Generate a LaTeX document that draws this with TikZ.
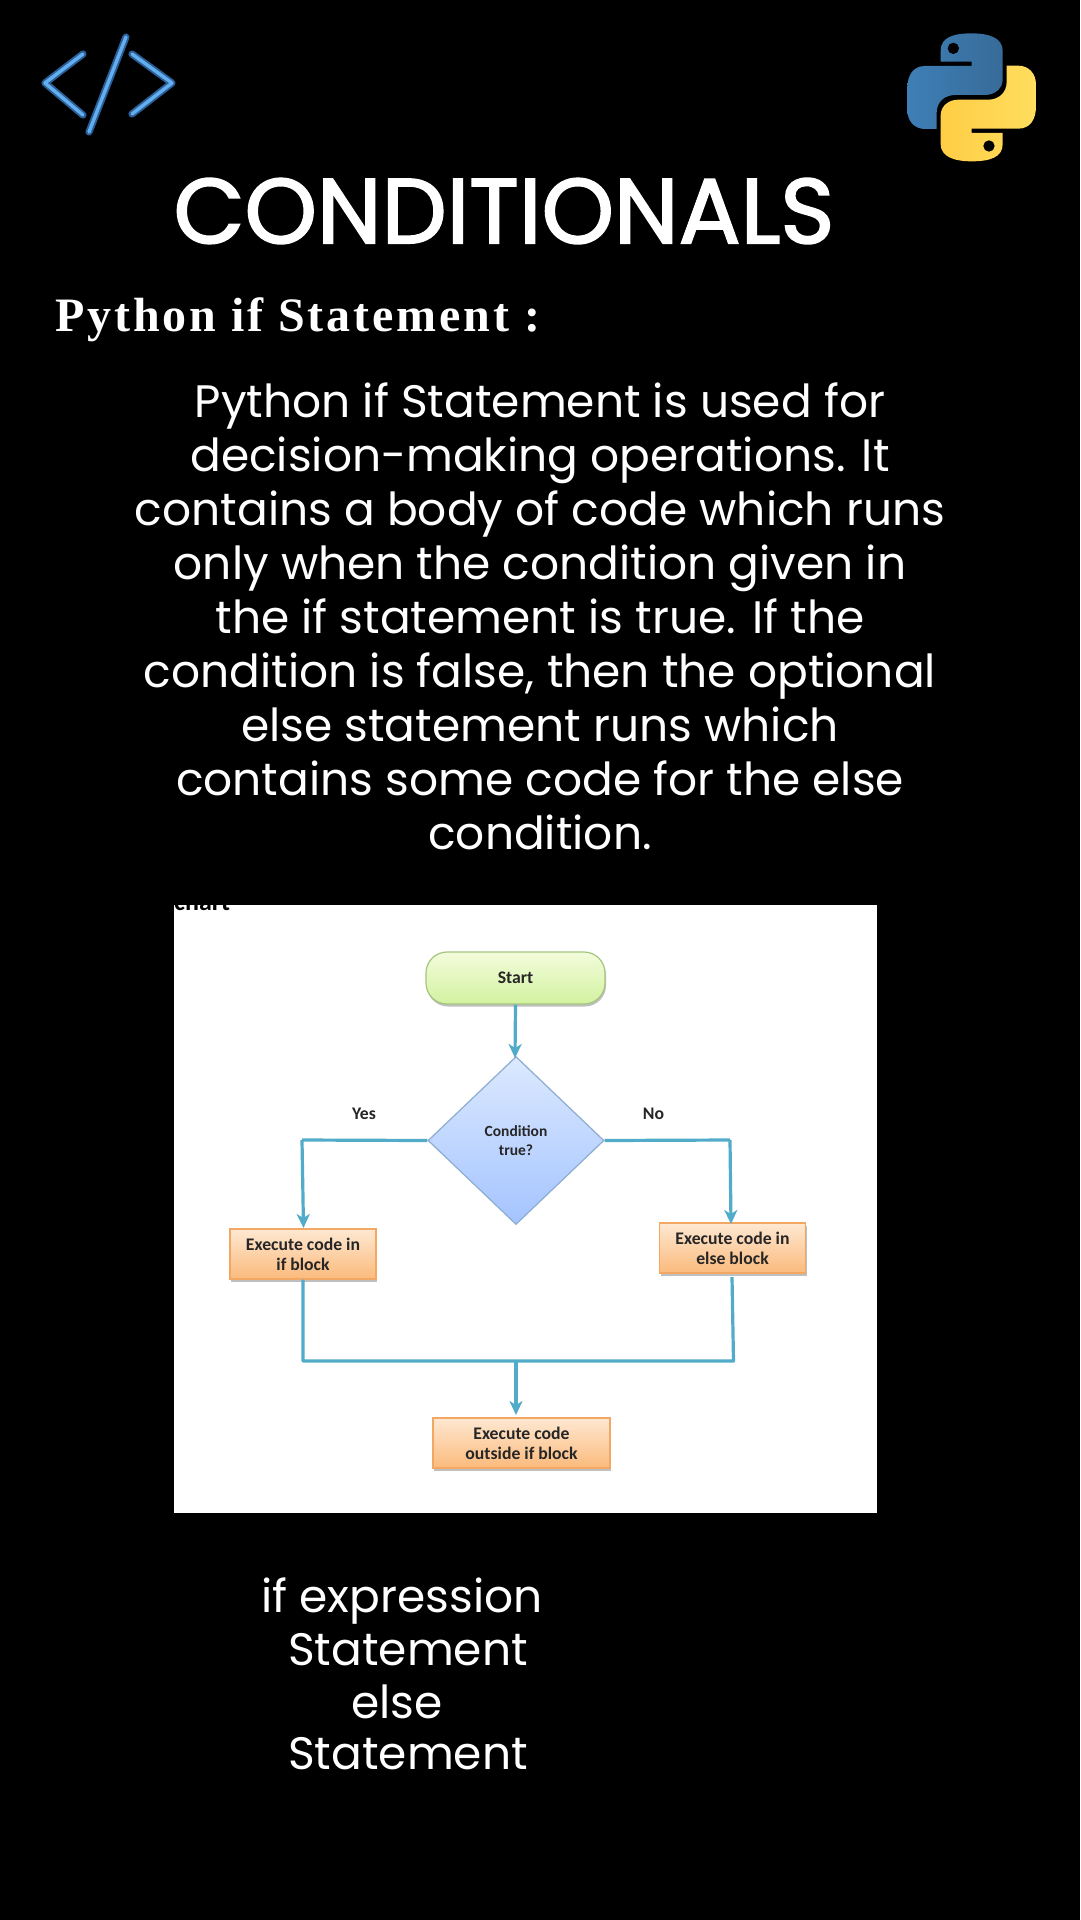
\documentclass[tikz,border=0pt]{standalone}
\usepackage{fontspec}
\setmainfont{Poppins}
\newfontfamily\titlefont[FakeBold=2]{Poppins}
\newfontfamily\flowfont{Carlito}
\newfontfamily\headfont[LetterSpace=6]{Liberation Serif}
\usetikzlibrary{arrows.meta,shapes.geometric,shadows}
\definecolor{flowteal}{HTML}{52ABC8}
\definecolor{logoouter}{HTML}{2C5E96}
\definecolor{logoinner}{HTML}{62AEEF}
\definecolor{pyblueA}{HTML}{3E7FB6}
\definecolor{pyblueB}{HTML}{376B99}
\definecolor{pyyellowA}{HTML}{FFCE45}
\definecolor{pyyellowB}{HTML}{FFDD5E}
\definecolor{startA}{HTML}{F3FCDC}
\definecolor{startB}{HTML}{D2F2A0}
\definecolor{startline}{HTML}{A5C57E}
\definecolor{condA}{HTML}{DCE9FF}
\definecolor{condB}{HTML}{A4C4FF}
\definecolor{condline}{HTML}{8CADCF}
\definecolor{procA}{HTML}{FEE8D2}
\definecolor{procB}{HTML}{FBBA7C}
\definecolor{procline}{HTML}{F2A763}
\tikzset{
  x=1pt,y=-1pt,
  flowtext/.style={font=\flowfont\bfseries\fontsize{17.7}{20}\selectfont,text=black!85,align=center,inner sep=0pt},
  softshadow/.style={general shadow={shadow xshift=1pt,shadow yshift=-2.5pt,fill=black,opacity=.25}},
  startbox/.style={flowtext,draw=startline,line width=1.2pt,rounded corners=21pt,top color=startA,bottom color=startB,minimum width=179pt,minimum height=52pt,softshadow},
  condbox/.style={flowtext,font=\flowfont\bfseries\fontsize{15.5}{19.5}\selectfont,diamond,aspect=1.05,draw=condline,line width=1.2pt,top color=condA,bottom color=condB,minimum width=176pt,minimum height=168pt},
  procbox/.style={flowtext,draw=procline,line width=1.2pt,top color=procA,bottom color=procB,minimum width=146pt,minimum height=50pt,softshadow},
  flow/.style={draw=flowteal,line width=3.2pt},
  flowarrow/.style={flow,-{Stealth[length=14pt,width=13pt,inset=4pt]}},
  edgelabel/.style={flowtext},
  bodytext/.style={text=white,align=center,inner sep=0pt,font=\fontsize{45.5}{54}\selectfont},
  codetext/.style={text=white,inner sep=0pt,font=\fontsize{45.5}{54}\selectfont},
  bracket/.style={line cap=round,line join=round,draw=logoouter,line width=7.2pt},
  bracketcore/.style={line cap=round,line join=round,draw=logoinner,line width=3.4pt},
}
\begin{document}
\begin{tikzpicture}
\useasboundingbox (0,0) rectangle (1080,1920);
\fill[black] (0,0) rectangle (1080,1920);
% code icon
\foreach \s in {bracket,bracketcore}{
  \draw[\s] (83,54) -- (45,83) -- (83,115);
  \draw[\s] (132,54) -- (172,83) -- (132,114);
  \draw[\s] (126,37) -- (89,132);
}
% python logo
\begin{scope}[shift={(890,20)},x=0.3333pt,y=-0.3333pt]
  \fill[left color=pyblueA,right color=pyblueB] (245,40) .. controls (190,40) and (152,52) .. (152,92) -- (152,125) -- (245,125) -- (245,138) -- (105,138) .. controls (70,138) and (52,165) .. (52,205) -- (52,270) .. controls (52,305) and (75,327) .. (105,327) -- (140,327) -- (140,278) .. controls (140,245) and (165,225) .. (195,225) -- (285,225) .. controls (315,225) and (338,205) .. (338,178) -- (338,92) .. controls (338,55) and (300,40) .. (245,40) -- cycle;
  \fill[left color=pyyellowA,right color=pyyellowB] (245,424) .. controls (300,424) and (338,412) .. (338,372) -- (338,339) -- (245,339) -- (245,326) -- (385,326) .. controls (420,326) and (438,299) .. (438,259) -- (438,194) .. controls (438,159) and (415,137) .. (385,137) -- (350,137) -- (350,186) .. controls (350,219) and (325,239) .. (295,239) -- (205,239) .. controls (175,239) and (152,259) .. (152,286) -- (152,372) .. controls (152,409) and (190,424) .. (245,424) -- cycle;
  \fill[black] (190,85) circle[radius=17];
  \fill[black] (297,378) circle[radius=17];
\end{scope}
% title and headings
\node[text=white,inner sep=0pt,font=\titlefont\fontsize{92}{92}\selectfont] (title) at (504,211) {CONDITIONALS};
\node[anchor=base west,text=white,inner sep=0pt,font=\headfont\bfseries\fontsize{48}{48}\selectfont] (head) at (55,331) {Python if Statement :};
\node[bodytext,anchor=north] (body) at (540,382.5) {Python if Statement is used for\\decision-making operations. It\\contains a body of code which runs\\only when the condition given in\\the if statement is true. If the\\condition is false, then the optional\\else statement runs which\\contains some code for the else\\condition.};
% flowchart image
\fill[white] (174,905) rectangle (877,1513);
\begin{scope}
  \clip (174,905) rectangle (300,925);
  \node[anchor=base west,inner sep=0pt,text=black,font=\flowfont\bfseries\fontsize{26}{26}\selectfont] (cut) at (174,910) {chart};
\end{scope}
\node[startbox] (start) at (515.5,978) {Start};
\node[condbox] (cond) at (516,1140.5) {Condition\\true?};
\node[procbox] (ifbox) at (303,1254) {Execute code in\\if block};
\node[procbox] (elsebox) at (732.5,1248) {Execute code in\\else block};
\node[procbox,minimum width=177pt] (outbox) at (521.5,1443) {Execute code\\outside if block};
\node[edgelabel] (yes) at (364,1114) {Yes};
\node[edgelabel] (no) at (653.5,1114) {No};
\coordinate (yesturn) at (302,1140);
\coordinate (noturn) at (730,1140);
\coordinate (mergeleft) at (303,1361);
\coordinate (mergeright) at (733.5,1361);
\coordinate (mergemid) at (516,1361);
\coordinate (elsetail) at (732,1277);
\coordinate (ifend) at (303.5,1228);
\coordinate (elseend) at (731,1224);
\coordinate (outend) at (516,1415);
\coordinate (condtop) at (515,1058);
\draw[flowarrow] (start.south) -- (condtop);
\draw[flow] (cond.west) -- (yesturn);
\draw[flowarrow] (yesturn) -- (ifend);
\draw[flow] (cond.east) -- (noturn);
\draw[flowarrow] (noturn) -- (elseend);
\draw[flow,line join=round] (ifbox.south) -- (mergeleft) -- (mergeright) -- (elsetail);
\draw[flowarrow] (mergemid) -- (outend);
% code sample
\node[codetext] (c1) at (402,1601) {if expression};
\node[codetext] (c2) at (408,1650) {Statement};
\node[codetext] (c3) at (397,1702) {else};
\node[codetext] (c4) at (408,1754) {Statement};
\end{tikzpicture}
\end{document}
